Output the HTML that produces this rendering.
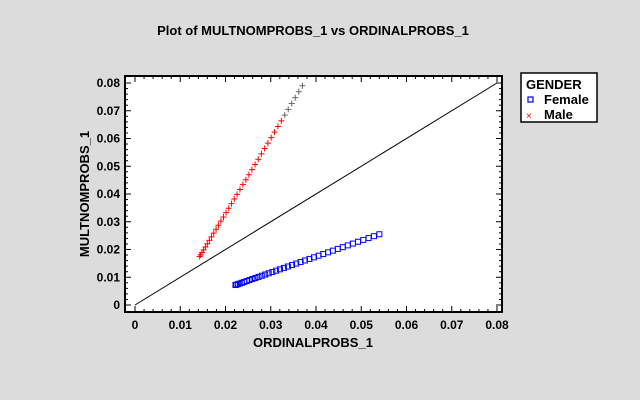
<!DOCTYPE html>
<html><head><style>
html,body{margin:0;padding:0;background:#dcdcdc;width:640px;height:400px;overflow:hidden;font-family:"Liberation Sans",Arial,sans-serif}
svg{display:block}
</style></head><body>
<svg id="s" width="640" height="400" xmlns="http://www.w3.org/2000/svg" font-family="Liberation Sans, Arial, sans-serif">
<rect x="0" y="0" width="640" height="400" fill="#dcdcdc"/>
<text x="313" y="35" font-size="13" font-weight="bold" text-anchor="middle">Plot of MULTNOMPROBS_1 vs ORDINALPROBS_1</text>
<rect x="125" y="76" width="377" height="236" fill="#fff" stroke="#000" stroke-width="2"/>
<g id="ax"></g>
<line x1="135" y1="305" x2="497" y2="83" stroke="#000" stroke-width="1"/>
<g id="pts"></g>
<text x="313" y="347" font-size="13" font-weight="bold" text-anchor="middle">ORDINALPROBS_1</text>
<text transform="translate(89,194) rotate(-90)" font-size="13" font-weight="bold" text-anchor="middle">MULTNOMPROBS_1</text>
<rect x="521" y="73" width="76" height="49" fill="#fff" stroke="#000" stroke-width="1.5"/>
<text x="526" y="89" font-size="13" font-weight="bold" fill="#000">GENDER</text>
<rect x="528" y="97" width="5" height="5" fill="none" stroke="#00f" stroke-width="1.2"/>
<text x="544" y="104" font-size="13" font-weight="bold">Female</text>
<text x="526" y="119" font-size="10" fill="#f00">×</text>
<text x="544" y="119" font-size="13" font-weight="bold">Male</text>
</svg>
<script>
function X(v){return 135+v/0.08*362}
function Y(v){return 305-v/0.08*222}
var ax=document.getElementById('ax'),h='';
for(var i=0;i<=40;i++){var v=i*0.002,maj=i%5==0,L=maj?6:3;
 var x=X(v),y=Y(v);
 h+='<line x1="'+x+'" y1="312" x2="'+x+'" y2="'+(312-L)+'" stroke="#000"/>';
 h+='<line x1="'+x+'" y1="76" x2="'+x+'" y2="'+(76+L)+'" stroke="#000"/>';
 h+='<line x1="125" y1="'+y+'" x2="'+(125+L)+'" y2="'+y+'" stroke="#000"/>';
 h+='<line x1="502" y1="'+y+'" x2="'+(502-L)+'" y2="'+y+'" stroke="#000"/>';
 if(maj){var lab=i==0?'0':(v.toFixed(2));
  h+='<text x="'+x+'" y="329" font-size="12" font-weight="bold" text-anchor="middle">'+lab+'</text>';
  h+='<text x="120" y="'+(y+4)+'" font-size="12" font-weight="bold" text-anchor="end">'+lab+'</text>';}
}
ax.innerHTML=h;
var p='';
var N=38;
for(var i=0;i<N;i++){var t=Math.pow(i/(N-1),1.3);
 var x=0.0143+t*(0.037-0.0143),y=0.0175+t*(0.079-0.0175);
 var px=X(x),py=Y(y),c=t>0.82?'#666':'#f00';
 p+='<path d="M'+(px-3)+' '+py+'h6M'+px+' '+(py-3)+'v6" stroke="'+c+'" stroke-width="1"/>';}
for(var i=0;i<N;i++){var t=Math.pow(i/(N-1),1.4);
 var x=0.0222+t*(0.054-0.0222),y=0.0072+t*(0.0255-0.0072);
 var px=X(x),py=Y(y);
 p+='<rect x="'+(px-2.5)+'" y="'+(py-2.5)+'" width="5" height="5" fill="none" stroke="#00f" stroke-width="1"/>';}
document.getElementById('pts').innerHTML=p;
</script>
</body></html>
